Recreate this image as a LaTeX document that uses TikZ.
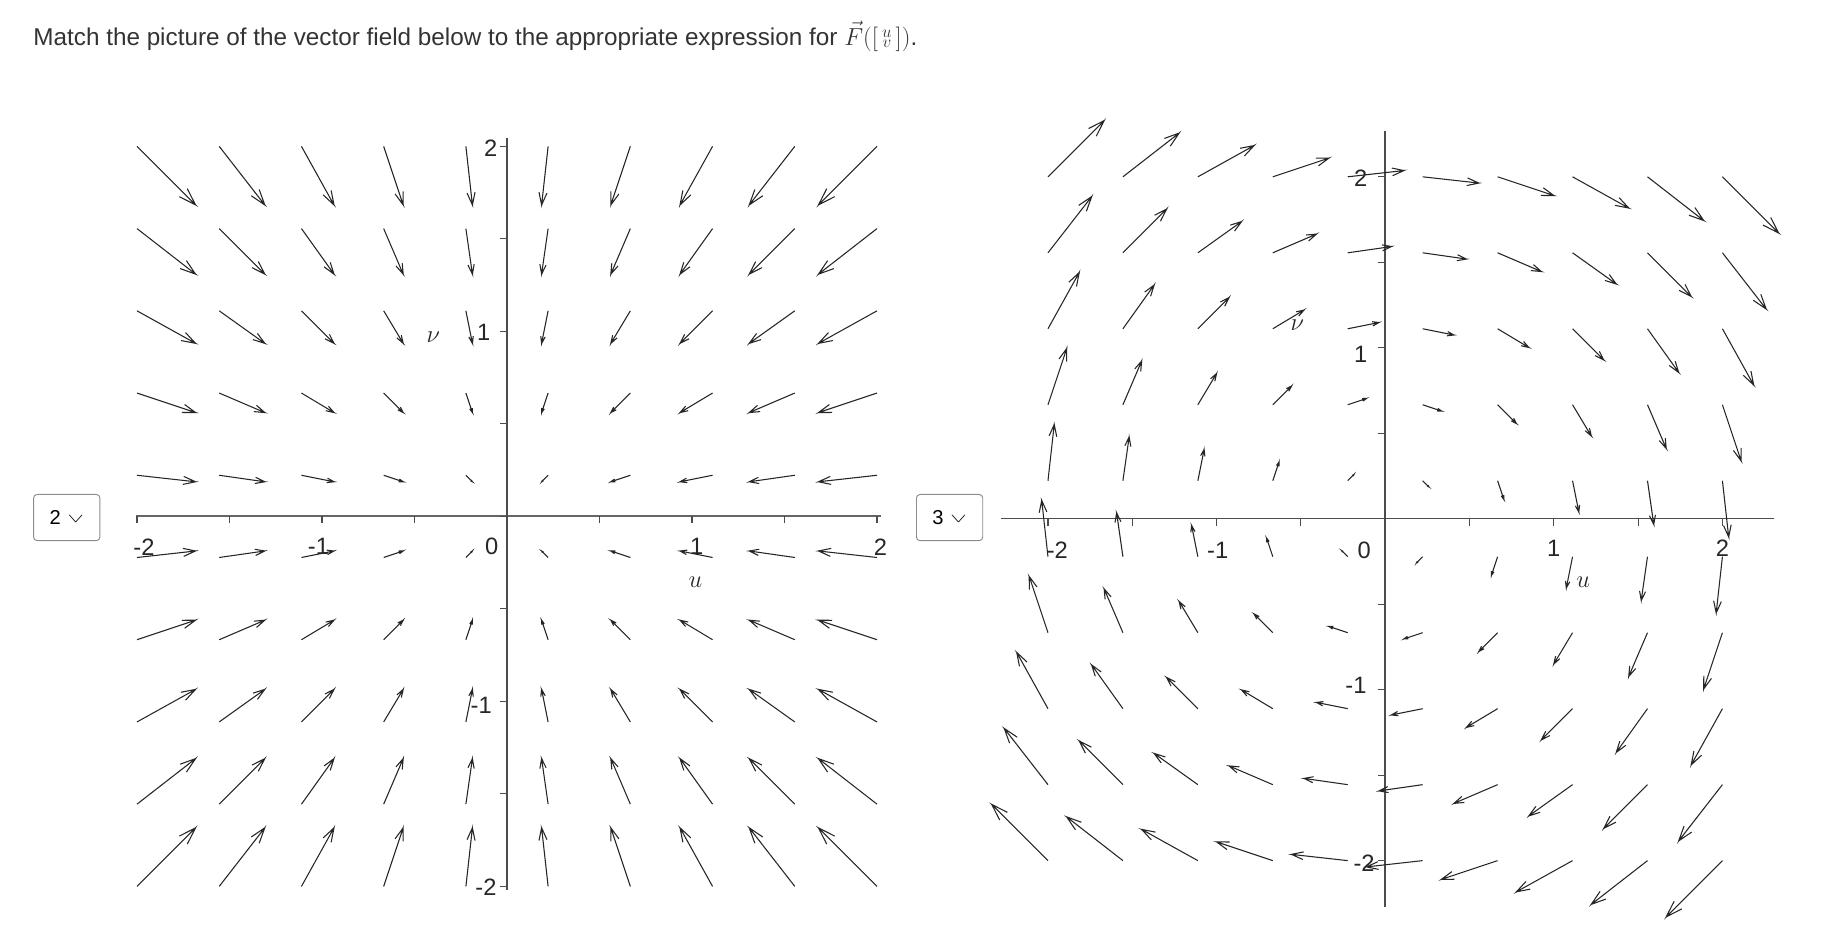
\documentclass[tikz,border=0pt]{standalone}
\usepackage{amsmath}
\usepackage{fontspec}
\setmainfont{Liberation Sans}
\tikzset{
  fld/.style={line width=0.9pt, draw=black!85},
  axis/.style={line width=1.3pt, draw=black!70},
  tick/.style={font=\fontsize{20}{21}\selectfont, text=black!85, inner sep=1pt},
  sel/.style={draw=black!45, rounded corners=3pt, minimum width=56pt, minimum height=39pt, line width=0.8pt}
}
% #1,#2 tail position, #3,#4 displacement (y down)
\newcommand{\fieldarrow}[4]{%
  \pgfmathsetmacro{\tx}{#1+#3}\pgfmathsetmacro{\ty}{#2+#4}%
  \pgfmathsetmacro{\ang}{atan2(#4,#3)}%
  \pgfmathsetmacro{\hl}{0.22*sqrt((#3)*(#3)+(#4)*(#4))}%
  \draw[fld] (#1,#2) -- (\tx,\ty) -- ++(\ang+162:\hl) (\tx,\ty) -- ++(\ang-162:\hl);%
}
\begin{document}
\begin{tikzpicture}[x=0.989pt,y=-0.989pt]
\useasboundingbox (0,0) rectangle (1568,792);
\node[anchor=west, text=black!80, font=\fontsize{20.5}{22}\selectfont] (title) at (25,31)
 {Match the picture of the vector field below to the appropriate expression for $\vec{F}(\left[\begin{smallmatrix}u\\ v\end{smallmatrix}\right])$.};
% selectors
\node[sel] (s2) at (57,442) {\fontsize{17}{18}\selectfont 2\,\,\raisebox{2pt}{\scalebox{1.2}[0.6]{$\vee$}}};
\node[sel] (s3) at (811,442) {\fontsize{17}{18}\selectfont 3\,\,\raisebox{2pt}{\scalebox{1.2}[0.6]{$\vee$}}};
% ---------- left plot: origin (433,441), unit 158
\draw[axis,line width=1.8pt,draw=black!60] (116,441) -- (752,441);
\draw[axis] (433,118) -- (433,760);
\foreach \k in {-2,-1.5,...,2}{
  \draw[axis,line width=1pt] (433+158*\k,441) -- (433+158*\k,447);
  \draw[axis,line width=1pt] (433,441-158*\k) -- (427,441-158*\k);
}
\foreach \i in {0,...,9}{
 \foreach \j in {0,...,9}{
  \pgfmathsetmacro{\u}{-2+4*\i/9}\pgfmathsetmacro{\v}{-2+4*\j/9}
  \fieldarrow{433+158*\u}{441-158*\v}{-25*\u}{25*\v}
 }}
\node[tick] (l-2) at (123,467) {-2};
\node[tick] (l-1) at (272,467) {-1};
\node[tick] (l0) at (420,467) {0};
\node[tick] (l1) at (595,467) {1};
\node[tick] (l2) at (752,467) {2};
\node[tick,font=\fontsize{20}{20}\selectfont] (lu) at (594,497) {$u$};
\node[tick,font=\fontsize{20}{20}\selectfont] (lv) at (370,288) {$\nu$};
\node[tick] (lv2) at (419,127) {2};
\node[tick] (lv1) at (413,284) {1};
\node[tick] (lvm1) at (411,602) {-1};
\node[tick] (lvm2) at (415,758) {-2};
% ---------- right plot: origin (1183,443), unit 144 x 146
\draw[axis] (855,443) -- (1515,443);
\draw[axis] (1183,112) -- (1183,775);
\foreach \k in {-2,-1.5,...,2}{
  \draw[axis,line width=1pt] (1183+144*\k,443) -- (1183+144*\k,449);
  \draw[axis,line width=1pt] (1183,443-146*\k) -- (1177,443-146*\k);
}
\foreach \i in {0,...,9}{
 \foreach \j in {0,...,9}{
  \pgfmathsetmacro{\u}{-2+4*\i/9}\pgfmathsetmacro{\v}{-2+4*\j/9}
  \fieldarrow{1183+144*\u}{443-146*\v}{24*\v}{24*\u}
 }}
\node[tick] (r-2) at (903,470) {-2};
\node[tick] (r-1) at (1040,470) {-1};
\node[tick] (r0) at (1165,470) {0};
\node[tick] (r1) at (1327,468) {1};
\node[tick] (r2) at (1471,468) {2};
\node[tick,font=\fontsize{20}{20}\selectfont] (ru) at (1352,497) {$u$};
\node[tick,font=\fontsize{20}{20}\selectfont] (rv) at (1108,278) {$\nu$};
\node[tick] (rv2) at (1162,152) {2};
\node[tick] (rv1) at (1162,303) {1};
\node[tick] (rvm1) at (1158,585) {-1};
\node[tick] (rvm2) at (1165,737) {-2};
\end{tikzpicture}
\end{document}
